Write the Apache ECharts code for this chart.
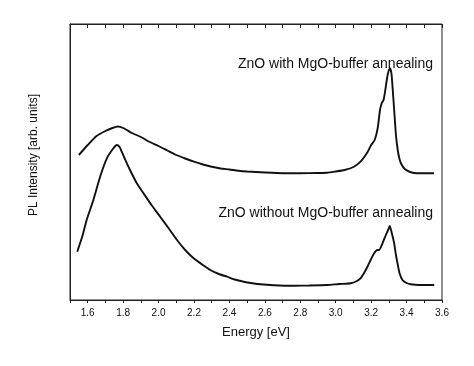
<!DOCTYPE html>
<html>
<head>
<meta charset="utf-8">
<script src="https://cdn.jsdelivr.net/npm/echarts@6/dist/echarts.min.js"></script>
<style>html,body{margin:0;padding:0;background:#fff;}#c{width:474px;height:366px;}</style>
</head>
<body>
<div id="c"></div>
<script>
// Energy (eV) and PL intensity (arb. units)
const upperEnergy = [1.55,1.60,1.65,1.70,1.74,1.77,1.80,1.85,1.90,1.95,2.00,2.05,2.10,2.15,2.20,2.25,2.30,2.35,2.40,2.45,2.50,2.60,2.70,2.80,2.90,2.95,3.00,3.05,3.10,3.14,3.18,3.20,3.22,3.237,3.25,3.26,3.27,3.28,3.29,3.30,3.307,3.315,3.322,3.33,3.34,3.35,3.36,3.37,3.39,3.42,3.46,3.50,3.555];
const upperIntensity = [145,155,164,169,172,173.5,172,167,163,158,154,149.5,145,141.5,138.3,135.5,133.3,131.5,130.5,129.3,128.5,127.5,126.8,126.8,127,127.2,128.5,130,133,138.3,148,155,160,172,190,197,200,210,222,230,231.7,226,210,190,165,150,141,136,131,128,126.7,126.7,126.7];
const lowerEnergy = [1.541,1.57,1.594,1.632,1.67,1.708,1.745,1.764,1.78,1.792,1.821,1.85,1.877,1.915,1.96,2.009,2.06,2.104,2.15,2.198,2.25,2.292,2.34,2.387,2.43,2.481,2.53,2.575,2.65,2.764,2.85,2.953,3.02,3.085,3.12,3.14,3.16,3.179,3.20,3.217,3.235,3.245,3.264,3.283,3.296,3.305,3.315,3.33,3.34,3.349,3.36,3.377,3.40,3.424,3.47,3.556];
const lowerIntensity = [48.3,64,80,100,123.3,141.7,151.7,155,153,148.3,136.7,126,116.7,106.7,95,83.3,71,60,50,41.7,35,30,26,23.3,20.5,18.3,16.8,15.7,14.8,14.3,14.5,15,16,16.7,19,21.7,27,33.3,41,46.7,50,50,56.7,65,70,74,68,56.7,45,36.7,27,20,17,15.7,15,15];
const majorTicks = [1.6,1.8,2.0,2.2,2.4,2.6,2.8,3.0,3.2,3.4,3.6];
const labelUpper = 'ZnO with MgO-buffer annealing';
const labelLower = 'ZnO without MgO-buffer annealing';

const zip = (a, b) => a.map((x, i) => [x, b[i]]);
const FONT = 'Liberation Sans';
const chart = echarts.init(document.getElementById('c'));
chart.setOption({
  animation: false,
  grid: {left: 70, right: 32, top: 24, bottom: 66, show: true, borderColor: '#222', borderWidth: 1, backgroundColor: 'transparent'},
  xAxis: [
    {
      type: 'value', min: 1.5, max: 3.6, interval: 0.1, position: 'bottom',
      splitLine: {show: false},
      axisLine: {show: true, onZero: false, lineStyle: {color: '#222', width: 1}},
      axisTick: {show: true, length: 3, lineStyle: {color: '#222'}},
      axisLabel: {customValues: majorTicks, formatter: v => v.toFixed(1), color: '#111', fontSize: 10, fontFamily: FONT, margin: 8},
      name: 'Energy [eV]', nameLocation: 'middle', nameGap: 26,
      nameTextStyle: {color: '#111', fontSize: 13, fontFamily: FONT}
    },
    {
      type: 'value', min: 1.5, max: 3.6, interval: 0.1, position: 'top',
      splitLine: {show: false},
      axisLine: {show: true, onZero: false, lineStyle: {color: '#222', width: 1}},
      axisTick: {show: true, inside: true, length: 4, lineStyle: {color: '#222', width: 1}},
      axisLabel: {show: false}
    }
  ],
  yAxis: [
    {type: 'value', min: 0, max: 276,
     axisLine: {show: true, onZero: false, lineStyle: {color: '#222'}}, axisTick: {show: false}, axisLabel: {show: false}, splitLine: {show: false}}
  ],
  series: [
    {type: 'line', data: zip(upperEnergy, upperIntensity), showSymbol: false, smooth: 0.2,
     lineStyle: {color: '#111', width: 1.9}},
    {type: 'line', data: zip(lowerEnergy, lowerIntensity), showSymbol: false, smooth: 0.2,
     lineStyle: {color: '#111', width: 1.9}}
  ],
  graphic: [
    {type: 'text', x: 433, y: 64,
     style: {text: labelUpper, fill: '#111', font: '14px ' + FONT, textAlign: 'right', textVerticalAlign: 'middle'}},
    {type: 'text', x: 433, y: 213,
     style: {text: labelLower, fill: '#111', font: '14px ' + FONT, textAlign: 'right', textVerticalAlign: 'middle'}},
    {type: 'text', x: 34, y: 155, rotation: Math.PI / 2,
     style: {text: 'PL Intensity [arb. units]', fill: '#111', font: '12px ' + FONT, textAlign: 'center', textVerticalAlign: 'middle'}}
  ]
});
</script>
</body>
</html>
